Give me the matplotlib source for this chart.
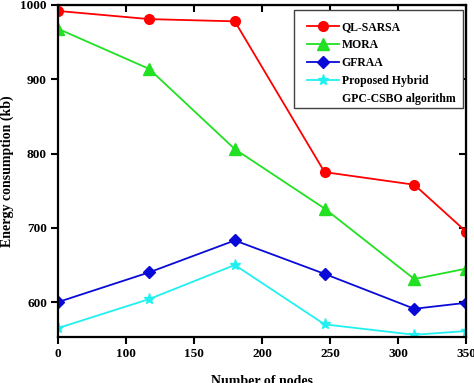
import matplotlib
matplotlib.use("Agg")
import matplotlib.pyplot as plt
from matplotlib.lines import Line2D
from matplotlib.patches import Rectangle

plt.rcParams['font.family'] = ['Liberation Serif', 'DejaVu Serif']
plt.rcParams['font.weight'] = 'bold'

nodes = [50, 117, 180, 246, 312, 350]
ql_sarsa = [992, 981, 978, 775, 758, 695]
mora = [968, 914, 806, 726, 631, 645]
gfraa = [600, 640, 683, 638, 591, 599]
hybrid = [565, 604, 650, 570, 556, 561]

xticks = [50, 100, 150, 200, 250, 300, 350]
xticklabels = ['0', '100', '150', '200', '250', '300', '350']
yticks = [600, 700, 800, 900, 1000]

W, H = 474, 383
fig = plt.figure(figsize=(W / 100, H / 100), dpi=100)
ax = fig.add_axes([58 / W, (H - 337) / H, (466 - 58) / W, (337 - 5) / H])

l1, = ax.plot(nodes, ql_sarsa, color='#ff0000', marker='o', ms=7, lw=1.3, label='QL-SARSA')
l2, = ax.plot(nodes, mora, color='#22e022', marker='^', ms=8, lw=1.3, label='MORA')
l3, = ax.plot(nodes, gfraa, color='#0a0ad8', marker='D', ms=6.5, lw=1.3, label='GFRAA')
l4, = ax.plot(nodes, hybrid, color='#22f0f0', marker='*', ms=8, lw=1.3, label='Proposed Hybrid')
blank = Line2D([], [], linestyle='none', marker=None)

ax.set_xlim(50, 350)
ax.set_ylim(553, 1000)
ax.set_xticks(xticks)
ax.set_xticklabels(xticklabels)
ax.set_yticks(yticks)

for s in ax.spines.values():
    s.set_linewidth(1.6)

ax.tick_params(direction='out', length=5, width=1.5, labelsize=9.5, pad=3)

top = ax.secondary_xaxis('top')
top.set_xticks(xticks)
top.tick_params(direction='in', length=5, width=1.5, labelbottom=False, labeltop=False)
right = ax.secondary_yaxis('right')
right.set_yticks(yticks)
right.tick_params(direction='in', length=5, width=1.5, labelleft=False, labelright=False)

ax.set_xlabel('Number of nodes', fontsize=10, fontweight='bold')
ax.xaxis.set_label_coords(0.5, -0.115)
ax.set_ylabel('Energy consumption (kb)', fontsize=10, fontweight='bold')
ax.yaxis.set_label_coords(-0.108, 0.5)

# legend box frame
frame = Rectangle((294 / W, 1 - 108 / H), (463 - 294) / W, (108 - 10) / H,
                  transform=fig.transFigure, facecolor='white', edgecolor='#404040',
                  linewidth=1.0, zorder=4)
fig.patches.append(frame)

leg = fig.legend([l1, l2, l3, l4, blank],
                 ['QL-SARSA', 'MORA', 'GFRAA', 'Proposed Hybrid', 'GPC-CSBO algorithm'],
                 loc='upper left', bbox_to_anchor=(307 / W, 1 - 21.5 / H),
                 frameon=False, borderpad=0, borderaxespad=0,
                 handlelength=2.75, handletextpad=0.2, labelspacing=0.5,
                 prop={'weight': 'bold', 'size': 8.5})
leg.set_zorder(5)

fig.savefig('out.png', dpi=100)
